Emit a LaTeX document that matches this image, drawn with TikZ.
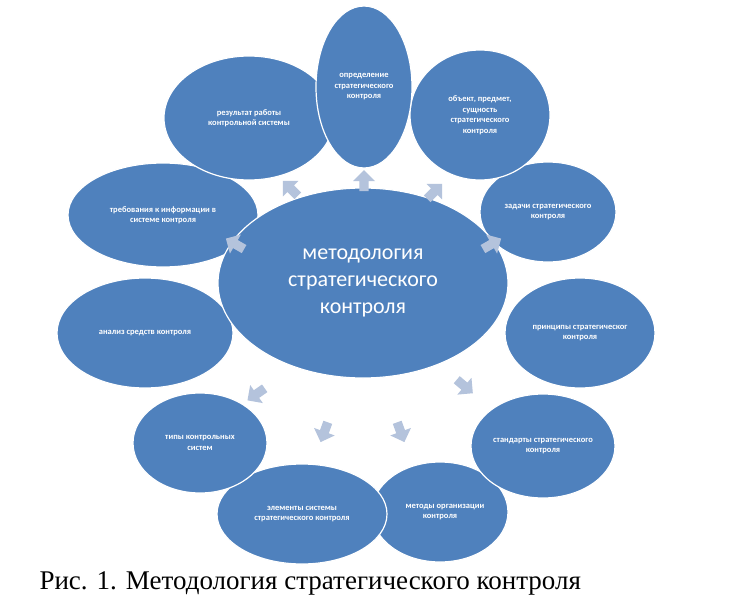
\documentclass[tikz,border=0pt]{standalone}
\usepackage{fontspec}
\setmainfont{Liberation Serif}
\newfontfamily\calib{Carlito}
\usetikzlibrary{shapes.arrows,shapes.geometric}
\begin{document}
\begin{tikzpicture}[x=1pt,y=-1pt]
\tikzset{
  petal/.style={ellipse,fill=blue4,draw=white,line width=1.2pt,text=white,
    font=\calib\bfseries\fontsize{8.5}{10.5}\selectfont,align=center,inner sep=0pt},
  flow/.style={single arrow,fill=arrowgray,draw=none,minimum height=21pt,
    minimum width=22pt,single arrow head extend=3pt,inner sep=2pt}
}
\definecolor{blue4}{HTML}{4F81BD}
\definecolor{arrowgray}{HTML}{B4C3DC}
\useasboundingbox (0,0) rectangle (737,613);
\fill[white] (0,0) rectangle (737,613);
% lower petals first
\node[petal,minimum width=136pt,minimum height=100pt] (meth) at (440,512) {\hspace*{10pt}методы организации\\контроля};
\node[petal,minimum width=170pt,minimum height=100pt] (elem) at (302,514) {элементы системы\\стратегического контроля};
\node[petal,minimum width=144pt,minimum height=104pt] (stan) at (543,446) {стандарты стратегического\\контроля};
\node[petal,minimum width=134pt,minimum height=100pt] (type) at (200,443) {типы контрольных\\систем};
\node[petal,minimum width=150pt,minimum height=110pt] (prin) at (580,333) {принципы стратегическог\\контроля};
\node[petal,minimum width=176pt,minimum height=110pt] (anal) at (145,333) {анализ средств контроля};
\node[petal,minimum width=136pt,minimum height=100pt] (task) at (548,212) {задачи стратегического\\контроля};
\node[petal,minimum width=190pt,minimum height=104pt] (info) at (163,215) {требования к информации в\\системе контроля};
\node[petal,minimum width=140pt,minimum height=130pt] (obj) at (480,115) {объект, предмет,\\сущность\\стратегического\\контроля};
\node[petal,minimum width=170pt,minimum height=124pt] (res) at (249,118) {результат работы\\контрольной системы};
\node[petal,minimum width=96pt,minimum height=162pt] (defn) at (364,87) {определение\\стратегического\\контроля};
% centre
\node[petal,minimum width=290pt,minimum height=190pt,font=\calib\fontsize{22}{27}\selectfont] (core) at (363,283) {методология\\стратегического\\контроля};
% arrows
\foreach \px/\py/\ang in {364/183/90, 292/190/135, 433/193/45, 490/245/30, 463/385/-40, 400/430/-70, 325/430/-110, 258/393/-145, 237/245/150}
  \node[flow,rotate=\ang] at (\px,\py) {};
\node[anchor=west,font=\fontsize{27}{31}\selectfont] (cap) at (36,583) {Рис. 1. Методология стратегического контроля};
\end{tikzpicture}
\end{document}
